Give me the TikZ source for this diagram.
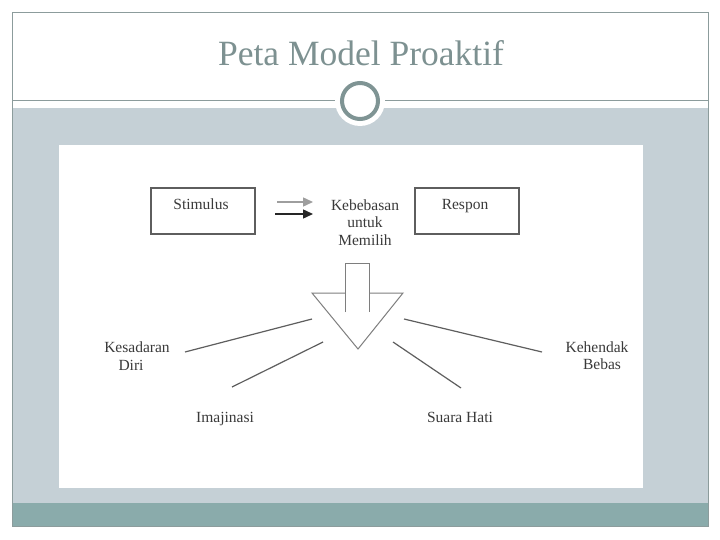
\documentclass[tikz,border=0pt]{standalone}
\usepackage{fontspec}
\setmainfont{Liberation Serif}
\usetikzlibrary{arrows.meta}
\definecolor{titlec}{HTML}{7D9191}
\definecolor{framec}{HTML}{8C9C9C}
\definecolor{bandc}{HTML}{C5D0D6}
\definecolor{footc}{HTML}{8AABAB}
\definecolor{ringc}{HTML}{7F9494}
\definecolor{txtc}{HTML}{3A3A3A}
\definecolor{linec}{HTML}{5E5E5E}
\tikzset{
  lbl/.style={font=\fontsize{15.5}{18}\selectfont, text=txtc, inner sep=0pt, align=center},
  boxn/.style={draw=linec, line width=1.3pt, minimum width=104pt, minimum height=46pt, inner sep=0pt},
  ray/.style={draw=linec, line width=1.2pt},
  barrow/.style={draw=linec!80, line width=1pt, line join=miter},
  sarrow/.style={line width=1.4pt, -{Triangle[length=10pt,width=9pt]}}
}
\begin{document}
\begin{tikzpicture}[x=1pt,y=-1pt]
\useasboundingbox (0,0) rectangle (720,540);
\fill[white] (0,0) rectangle (720,540);
% bands
\fill[bandc] (12,108) rectangle (708,503);
\fill[footc] (12,503) rectangle (708,526);
\draw[framec, line width=0.8pt] (12,12) rectangle (708,526);
\draw[framec, line width=0.8pt] (12,100) -- (708,100);
% ring
\fill[white] (360,101) circle (25);
\draw[ringc, line width=4pt] (360,101) circle (18);
% title
\node[font=\fontsize{35.5}{40}\selectfont, text=titlec, inner sep=0pt, anchor=base] (title) at (361,66) {Peta Model Proaktif};
% white picture area
\fill[white] (59,145) rectangle (643,488);
% boxes
\node[boxn] (stim) at (203,211) {};
\node[lbl, anchor=base] (stimt) at (201,210) {Stimulus};
\node[boxn] (resp) at (467,211) {};
\node[lbl, anchor=base] (respt) at (465,210) {Respon};
% small arrows
\coordinate (a1s) at (277,202); \coordinate (a1e) at (313,202);
\coordinate (a2s) at (275,214); \coordinate (a2e) at (313,214);
\draw[sarrow, draw=linec!60, fill=black] (a1s) -- (a1e);
\draw[sarrow, draw=black!85] (a2s) -- (a2e);
\node[lbl, anchor=base] (keb) at (365,211) {Kebebasan};
\node[lbl, anchor=base] (unt) at (365,227) {untuk};
\node[lbl, anchor=base] (mem) at (365,245) {Memilih};
% block arrow
\draw[barrow] (345,312) -- (345,263) -- (369,263) -- (369,312);
\draw[barrow] (345,293) -- (312,293) -- (358,349) -- (403,293) -- (369,293);
% rays
\coordinate (k1) at (185,352); \coordinate (k2) at (312,319);
\coordinate (i1) at (232,387); \coordinate (i2) at (323,342);
\coordinate (h1) at (404,319); \coordinate (h2) at (542,352);
\coordinate (s1) at (393,342); \coordinate (s2) at (461,388);
\draw[ray] (k1) -- (k2);
\draw[ray] (i1) -- (i2);
\draw[ray] (h1) -- (h2);
\draw[ray] (s1) -- (s2);
% labels
\node[lbl, anchor=base] (kes) at (137,352) {Kesadaran};
\node[lbl, anchor=base] (diri) at (131,370) {Diri};
\node[lbl, anchor=base] (ima) at (225,422) {Imajinasi};
\node[lbl, anchor=base] (sua) at (460,422) {Suara Hati};
\node[lbl, anchor=base] (keh) at (597,352) {Kehendak};
\node[lbl, anchor=base] (beb) at (602,369) {Bebas};
\end{tikzpicture}
\end{document}
